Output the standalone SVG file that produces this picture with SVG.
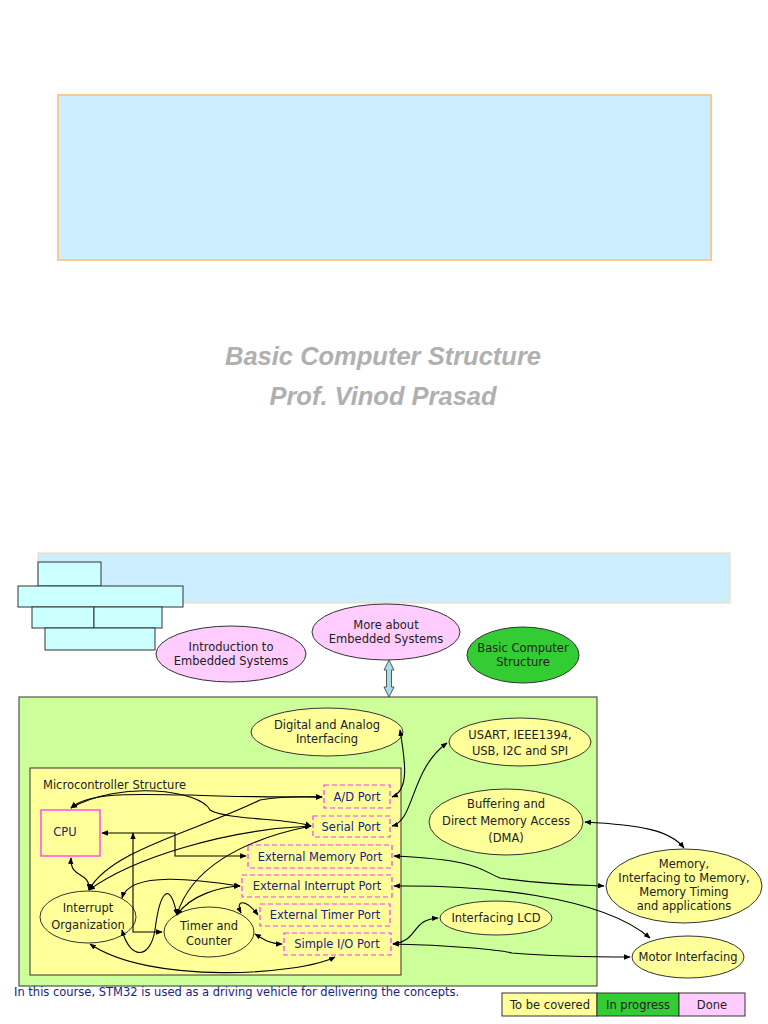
<svg xmlns="http://www.w3.org/2000/svg" width="768" height="1024" viewBox="0 0 768 1024">
<defs>
<marker id="a" viewBox="0 0 10 10" refX="9" refY="5" markerWidth="6" markerHeight="6" orient="auto-start-reverse"><path d="M0,1 L10,5 L0,9 z" fill="#000"/></marker>
<style>
text{font-family:"DejaVu Sans",Verdana,sans-serif;font-size:11.5px;fill:#222;text-anchor:middle}
.blk{fill:#ccffff;stroke:#333;stroke-width:1}
.ell{fill:#ffff99;stroke:#333;stroke-width:1}
.port{fill:#ffff99;stroke:#ff33ff;stroke-width:1.2;stroke-dasharray:5,3}
.pt{fill:#1a237e}
.c{fill:none;stroke:#000;stroke-width:1.1;marker-end:url(#a);marker-start:url(#a)}
.t{font-family:"Liberation Sans",Arial,sans-serif;font-size:25.5px;font-style:italic;font-weight:bold;fill:#b0b0b0}
</style>
</defs>
<rect width="768" height="1024" fill="#fff"/>
<rect x="58" y="95" width="653" height="165" fill="#cdeefe" stroke="#fbc990" stroke-width="2"/>
<text class="t" x="383" y="365">Basic Computer Structure</text>
<text class="t" x="383" y="405">Prof. Vinod Prasad</text>
<rect x="38" y="553" width="692" height="50" fill="#cceefe" stroke="#f5d5b0"/>
<g id="blocks">
<rect class="blk" x="38" y="562" width="63" height="24"/>
<rect class="blk" x="18" y="586" width="165" height="21"/>
<rect class="blk" x="32" y="607" width="62" height="21"/>
<rect class="blk" x="94" y="607" width="68" height="21"/>
<rect class="blk" x="45" y="628" width="110" height="22"/>
</g>
<g id="intro"><ellipse cx="231" cy="654" rx="75" ry="28" fill="#ffccff" stroke="#333"/><text x="231" y="651">Introduction to</text><text x="231" y="665">Embedded Systems</text></g>
<g id="more"><ellipse cx="386" cy="632" rx="74" ry="28" fill="#ffccff" stroke="#333"/><text x="386" y="629">More about</text><text x="386" y="643">Embedded Systems</text></g>
<g id="basic"><ellipse cx="523" cy="655" rx="56" ry="28" fill="#33cc33" stroke="#333"/><text x="523" y="652">Basic Computer</text><text x="523" y="666">Structure</text></g>
<path d="M389,660 L394,670 L391.5,670 L391.5,687 L394,687 L389,697 L384,687 L386.5,687 L386.5,670 L384,670 z" fill="#a8dde8" stroke="#333" stroke-width="0.8"/>
<rect x="19" y="697" width="578" height="289" fill="#ccff99" stroke="#333"/>
<g id="digital"><ellipse class="ell" cx="327" cy="732" rx="76" ry="24"/><text x="327" y="729">Digital and Analog</text><text x="327" y="743">Interfacing</text></g>
<g id="usart"><ellipse class="ell" cx="520" cy="742" rx="71" ry="24"/><text x="520" y="739">USART, IEEE1394,</text><text x="520" y="755">USB, I2C and SPI</text></g>
<g id="dma"><ellipse class="ell" cx="506" cy="822" rx="77" ry="33"/><text x="506" y="808">Buffering and</text><text x="506" y="825">Direct Memory Access</text><text x="506" y="842">(DMA)</text></g>
<g id="memory"><ellipse class="ell" cx="684" cy="886" rx="78" ry="37"/><text x="684" y="868">Memory,</text><text x="684" y="882">Interfacing to Memory,</text><text x="684" y="896">Memory Timing</text><text x="684" y="910">and applications</text></g>
<g id="motor"><ellipse class="ell" cx="688" cy="957" rx="56" ry="21"/><text x="688" y="961">Motor Interfacing</text></g>
<g id="lcd"><ellipse class="ell" cx="496" cy="918" rx="56" ry="17"/><text x="496" y="922">Interfacing LCD</text></g>
<rect x="30" y="768" width="371" height="207" fill="#ffff99" stroke="#333"/>
<text x="43" y="789" style="text-anchor:start">Microcontroller Structure</text>
<g id="cpu"><rect x="41" y="810" width="59" height="46" fill="#ffff99" stroke="#ff33ff" stroke-width="1.3"/><text class="pt" x="65" y="836">CPU</text></g>
<g id="ad"><rect class="port" x="324" y="785" width="66" height="23"/><text class="pt" x="357" y="801">A/D Port</text></g>
<g id="serial"><rect class="port" x="313" y="816" width="77" height="21"/><text class="pt" x="351" y="831">Serial Port</text></g>
<g id="extmem"><rect class="port" x="248" y="845" width="144" height="23"/><text class="pt" x="320" y="861">External Memory Port</text></g>
<g id="extint"><rect class="port" x="242" y="875" width="150" height="22"/><text class="pt" x="317" y="890">External Interrupt Port</text></g>
<g id="exttimer"><rect class="port" x="260" y="904" width="130" height="22"/><text class="pt" x="325" y="919">External Timer Port</text></g>
<g id="sio"><rect class="port" x="284" y="933" width="107" height="22"/><text class="pt" x="337" y="948">Simple I/O Port</text></g>
<g id="interrupt"><ellipse class="ell" cx="88" cy="917" rx="48" ry="26"/><text x="88" y="912">Interrupt</text><text x="88" y="929">Organization</text></g>
<g id="timer"><ellipse class="ell" cx="209" cy="932" rx="45" ry="25"/><text x="209" y="930">Timer and</text><text x="209" y="945">Counter</text></g>
<g id="connectors">
<path class="c" d="M71,808 C90,790 150,795 190,795 C230,797 300,797 322,797"/>
<path class="c" d="M71,808 C120,780 200,790 210,810 C225,820 290,818 311,826"/>
<path class="c" d="M102,833 L175,833 L175,856 L246,856"/>
<path class="c" d="M71,858 C70,880 90,870 89,890"/>
<path class="c" d="M89,890 C110,850 200,830 260,800 C290,795 310,797 322,797" />
<path class="c" d="M89,890 C130,860 220,830 311,826"/>
<path class="c" d="M122,898 C130,870 200,880 240,886"/>
<path class="c" d="M177,915 C190,870 240,840 311,826"/>
<path class="c" d="M177,915 C190,895 220,887 240,886"/>
<path class="c" d="M133,833 L133,932 L162,932"/>
<path class="c" d="M122,930 C130,960 150,960 155,930 C160,890 170,880 177,915"/>
<path class="c" d="M241,913 C235,900 245,898 258,915"/>
<path class="c" d="M255,934 C265,940 270,944 282,944"/>
<path class="c" d="M90,944 C150,985 300,975 335,957"/>
<path class="c" d="M392,797 C410,790 405,760 400,730"/>
<path class="c" d="M392,826 C415,820 410,770 447,743"/>
<path class="c" d="M394,856 C480,860 480,870 500,878 C550,885 580,885 604,886"/>
<path class="c" d="M394,886 C480,885 600,895 650,938"/>
<path class="c" d="M393,944 C420,940 410,920 438,918"/>
<path class="c" d="M393,944 C450,945 500,950 512,953 C550,956 600,957 630,957"/>
<path class="c" d="M585,822 C640,825 670,830 684,848"/>
</g>
<text x="14" y="996" style="text-anchor:start;fill:#1a237e">In this course, STM32 is used as a driving vehicle for delivering the concepts.</text>
<g id="legend">
<rect x="502" y="993" width="95" height="23" fill="#ffff99" stroke="#333"/>
<rect x="597" y="993" width="82" height="23" fill="#33cc33" stroke="#333"/>
<rect x="679" y="993" width="66" height="23" fill="#ffccff" stroke="#333"/>
<text x="550" y="1009">To be covered</text><text x="638" y="1009">In progress</text><text x="712" y="1009">Done</text>
</g>
</svg>
